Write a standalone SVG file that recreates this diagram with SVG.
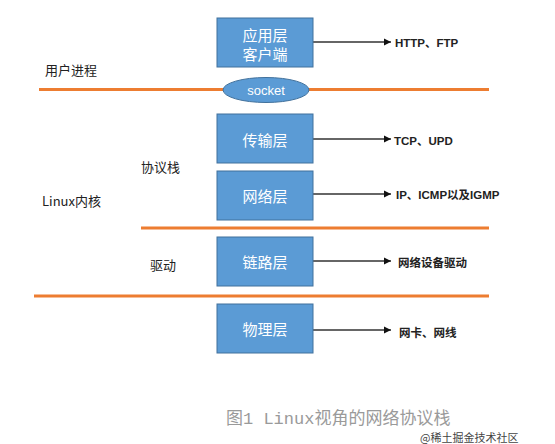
<svg xmlns="http://www.w3.org/2000/svg" width="555" height="444" viewBox="0 0 555 444">
<defs>
<marker id="ah" markerWidth="8" markerHeight="8" refX="7" refY="4" orient="auto" markerUnits="userSpaceOnUse">
<path d="M0,0.5 L7,4 L0,7.5 Z" fill="#111"/>
</marker>
</defs>
<style>
.box{fill:#5B9BD5;stroke:#41719C;stroke-width:1}
.bt{font-family:"Noto Sans CJK SC","Liberation Sans",sans-serif;font-size:15px;fill:#fff;text-anchor:middle;dominant-baseline:central}
.lbl{font-family:"Liberation Sans","Noto Sans CJK SC",sans-serif;font-size:11.5px;font-weight:bold;fill:#222;dominant-baseline:central}
.side{font-family:"Noto Sans CJK SC","Liberation Sans",sans-serif;font-size:13px;fill:#222;dominant-baseline:central}
.sep{stroke:#ED7D31;stroke-width:3}
.conn{stroke:#333;stroke-width:1.6;fill:none;marker-end:url(#ah)}
</style>
<rect width="555" height="444" fill="#fff"/>
<g id="separators">
<line class="sep" x1="39" y1="89.5" x2="489" y2="89.5"/>
<line class="sep" x1="141" y1="228" x2="489" y2="228"/>
<line class="sep" x1="34" y1="296" x2="489" y2="296"/>
</g>
<g id="connectors">
<line class="conn" x1="313" y1="42" x2="391" y2="42"/>
<line class="conn" x1="313" y1="139" x2="391" y2="139"/>
<line class="conn" x1="313" y1="194" x2="391" y2="194"/>
<line class="conn" x1="313" y1="261" x2="391" y2="261"/>
<line class="conn" x1="313" y1="330" x2="391" y2="330"/>
</g>
<g id="app">
<rect class="box" x="217" y="18" width="96" height="49"/>
<text class="bt" x="265" y="34">应用层</text>
<text class="bt" x="265" y="53">客户端</text>
</g>
<g id="socket">
<ellipse cx="266" cy="90" rx="43" ry="12.5" fill="#5B9BD5" stroke="#41719C" stroke-width="1"/>
<text x="266" y="90" font-family="'Liberation Sans',sans-serif" font-size="13" fill="#fff" text-anchor="middle" dominant-baseline="central">socket</text>
</g>
<g id="transport">
<rect class="box" x="217" y="114" width="96" height="49"/>
<text class="bt" x="265" y="139">传输层</text>
</g>
<g id="network">
<rect class="box" x="217" y="171" width="96" height="49"/>
<text class="bt" x="265" y="195">网络层</text>
</g>
<g id="link">
<rect class="box" x="217" y="237" width="96" height="49"/>
<text class="bt" x="265" y="261">链路层</text>
</g>
<g id="physical">
<rect class="box" x="217" y="304" width="96" height="49"/>
<text class="bt" x="265" y="328">物理层</text>
</g>
<g id="labels">
<text class="lbl" x="395" y="43">HTTP、FTP</text>
<text class="lbl" x="394" y="141">TCP、UPD</text>
<text class="lbl" x="396" y="195">IP、ICMP以及IGMP</text>
<text class="lbl" x="398" y="263">网络设备驱动</text>
<text class="lbl" x="399" y="333">网卡、网线</text>
</g>
<g id="side-labels">
<text class="side" x="45" y="69" font-size="14">用户进程</text>
<text class="side" x="42" y="200">Linux内核</text>
<text class="side" x="141" y="166">协议栈</text>
<text class="side" x="150" y="264">驱动</text>
</g>
<g id="caption">
<text x="226" y="419" font-family="'Liberation Mono','Noto Sans CJK SC',monospace" font-size="17" fill="#9a9a9a" dominant-baseline="central">图1 Linux视角的网络协议栈</text>
<text x="420" y="437" font-family="'Noto Sans CJK SC',sans-serif" font-size="11" fill="#444" dominant-baseline="central">@稀土掘金技术社区</text>
</g>
</svg>
